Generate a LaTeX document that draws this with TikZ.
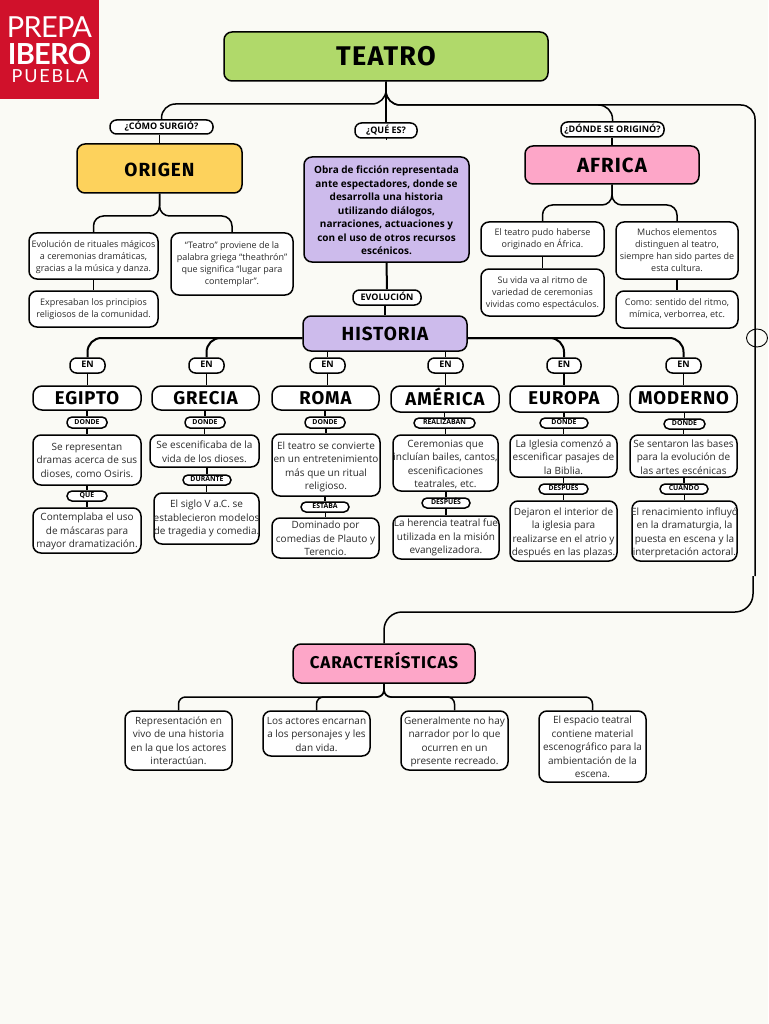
\documentclass[tikz,border=0pt]{standalone}
\usetikzlibrary{shapes.geometric}
\usepackage{fontspec}
\setmainfont{Open Sans}
\newfontfamily\titlefont[LetterSpace=5]{Fira Sans}
\newfontfamily\logofont[LetterSpace=-2.5]{Lato}
\newfontfamily\logospaced[LetterSpace=10]{Lato}
\definecolor{bgc}{HTML}{FAFAF5}
\definecolor{txt}{HTML}{2A2A2A}
\definecolor{verde}{HTML}{B0D96A}
\definecolor{amar}{HTML}{FDD25C}
\definecolor{rosa}{HTML}{FDA6C8}
\definecolor{lila}{HTML}{CDBBEC}
\definecolor{rojo}{HTML}{D0112B}
\newcommand{\lns}[1]{\makebox[0pt]{\begin{tabular}{@{}c@{}}#1\end{tabular}}}
% \bx[style]{name}{x0}{y0}{x1}{y1}{text}
\newcommand{\bx}[7][]{%
  \pgfmathsetmacro{\cxv}{(#3+#5)/2}\pgfmathsetmacro{\cyv}{(#4+#6)/2}%
  \pgfmathsetmacro{\wv}{#5-#3}\pgfmathsetmacro{\hv}{#6-#4}%
  \node[shp,minimum width=\wv pt,minimum height=\hv pt,#1] (#2) at (\cxv,\cyv) {\raisebox{\dimexpr\tdy-0.25em\relax}[0pt][0pt]{\lns{#7}}};}
\newcommand{\vc}[2]{\draw[conn] (#2.north |- #1.south) -- (#2.north);}
\tikzset{
  tdy/.code={\def\tdy{#1}},
  shp/.style={draw=black,line width=1.5pt,rounded corners=8pt,fill=white,inner sep=0pt,text=txt,tdy=-1pt,
    font=\fontsize{10}{13.5}\selectfont},
  small/.style={tdy=-0.5pt,font=\fontsize{9}{12}\selectfont},
  ttl/.style={text=black,tdy=-2pt,font=\titlefont\bfseries\fontsize{18.5}{22}\selectfont},
  pill/.style={rounded corners=6.5pt,text=black,tdy=0pt,font=\bfseries\fontsize{9}{10}\selectfont},
  pills/.style={rounded corners=5pt,text=black,tdy=0pt,font=\bfseries\fontsize{6.9}{8}\selectfont},
  conn/.style={draw=black,line width=1.5pt},
  logot/.style={text=white,inner sep=0pt}
}
\begin{document}
\begin{tikzpicture}[x=1pt,y=-1pt]
\useasboundingbox (0,0) rectangle (768,1024);
\fill[bgc] (0,0) rectangle (768,1024);
% logo
\fill[rojo] (0,0) rectangle (99,99);
\node[logot,font=\logofont\fontsize{29}{30}\selectfont] (lg1) at (49.5,27) {PREPA};
\node[logot,font=\logofont\bfseries\fontsize{29}{30}\selectfont] (lg2) at (49.5,54) {IBERO};
\node[logot,font=\logospaced\fontsize{18}{20}\selectfont] (lg3) at (50,76.5) {PUEBLA};
% main nodes
\bx[ttl,fill=verde,font=\titlefont\bfseries\fontsize{27}{32}\selectfont]{teatro}{224}{32}{548}{81}{TEATRO}
\bx[pill]{qcomo}{110}{120}{213}{134}{¿CÓMO SURGIÓ?}
\bx[pill]{qque}{355}{123}{417}{138}{¿QUÉ ES?}
\bx[pill]{qdonde}{561}{122}{664}{137}{¿DÓNDE SE ORIGINÓ?}
\bx[ttl,tdy=-3pt,fill=amar,font=\titlefont\bfseries\fontsize{19}{22}\selectfont]{origen}{77}{144}{242}{193}{ORIGEN}
\bx[ttl,tdy=-3pt,fill=rosa,font=\titlefont\bfseries\fontsize{20.5}{24}\selectfont]{africa}{525}{146}{699}{184}{AFRICA}
\bx[fill=lila,text=black,tdy=-2pt,font=\bfseries\fontsize{10}{13.5}\selectfont]{obra}{304}{157}{469}{262}{Obra de ficción representada\\ante espectadores, donde se\\desarrolla una historia\\utilizando diálogos,\\narraciones, actuaciones y\\con el uso de otros recursos\\escénicos.}
\bx[pill]{evol}{353}{290}{421}{305}{EVOLUCIÓN}
\bx[ttl,fill=lila,font=\titlefont\bfseries\fontsize{19}{22}\selectfont]{historia}{303}{316}{467}{351}{HISTORIA}
% origen boxes
\bx[small,tdy=-1pt]{oa}{29}{233}{158}{279}{Evolución de rituales mágicos\\a ceremonias dramáticas,\\gracias a la música y danza.}
\bx[small,tdy=0pt]{ob}{171}{233}{293}{295}{“Teatro” proviene de la\\palabra griega “theathrón”\\que significa “lugar para\\contemplar”.}
\bx[small,tdy=0pt]{oc}{29}{291}{158}{327}{Expresaban los principios\\religiosos de la comunidad.}
% africa boxes
\bx[small]{ae}{481}{222}{604}{256}{El teatro pudo haberse\\originado en África.}
\bx[small]{af}{481}{269}{604}{316}{Su vida va al ritmo de\\variedad de ceremonias\\vividas como espectáculos.}
\bx[small]{ag}{616}{222}{738}{279}{Muchos elementos\\distinguen al teatro,\\siempre han sido partes de\\esta cultura.}
\bx[small,tdy=0pt]{ah}{616}{291}{738}{328}{Como: sentido del ritmo,\\mímica, verborrea, etc.}
% EN pills
\bx[pill]{en1}{70}{358}{105}{373}{EN}
\bx[pill]{en2}{189}{358}{224}{373}{EN}
\bx[pill]{en3}{310}{358}{345}{373}{EN}
\bx[pill]{en4}{428}{358}{463}{373}{EN}
\bx[pill]{en5}{547}{358}{581}{373}{EN}
\bx[pill]{en6}{666}{358}{701}{373}{EN}
% titles
\bx[ttl,rounded corners=9pt]{t1}{33}{386}{141}{410}{EGIPTO}
\bx[ttl,rounded corners=9pt]{t2}{152}{386}{259}{410}{GRECIA}
\bx[ttl,rounded corners=9pt]{t3}{272}{386}{379}{410}{ROMA}
\bx[ttl,tdy=-1pt,rounded corners=9pt]{t4}{391}{386}{499}{412}{AMÉRICA}
\bx[ttl,tdy=-1pt,rounded corners=9pt]{t5}{510}{386}{618}{412}{EUROPA}
\bx[ttl,tdy=-1pt,rounded corners=9pt]{t6}{630}{386}{737}{412}{MODERNO}
% first small pills
\bx[pills]{p1}{67}{417}{107}{428}{DONDE}
\bx[pills]{p2}{185}{417}{225}{428}{DONDE}
\bx[pills]{p3}{305}{417}{345}{428}{DONDE}
\bx[pills]{p4}{414}{418}{475}{428}{REALIZABAN}
\bx[pills]{p5}{540}{418}{588}{428}{DONDE}
\bx[pills]{p6}{664}{419}{705}{429}{DONDE}
% second boxes
\bx{b1}{33}{435}{141}{485}{Se representan\\dramas acerca de sus\\dioses, como Osiris.}
\bx[tdy=-2pt]{b2}{150}{435}{259}{467}{Se escenificaba de la\\vida de los dioses.}
\bx[tdy=-2pt]{b3}{272}{434}{380}{496}{El teatro se convierte\\en un entretenimiento\\más que un ritual\\religioso.}
\bx[tdy=-2pt]{b4}{393}{435}{498}{491}{Ceremonias que\\incluían bailes, cantos,\\escenificaciones\\teatrales, etc.}
\bx[tdy=-2pt]{b5}{510}{435}{617}{477}{La Iglesia comenzó a\\escenificar pasajes de\\la Biblia.}
\bx[tdy=-2pt]{b6}{630}{435}{737}{477}{Se sentaron las bases\\para la evolución de\\las artes escénicas}
% second pills
\bx[pills]{q1}{67}{491}{107}{501}{QUE}
\bx[pills]{q2}{183}{475}{231}{485}{DURANTE}
\bx[pills]{q3}{301}{502}{349}{512}{ESTABA}
\bx[pills]{q4}{422}{498}{470}{508}{DESPUÉS}
\bx[pills]{q5}{539}{484}{588}{494}{DESPUÉS}
\bx[pills]{q6}{660}{484}{708}{494}{CUANDO}
% third boxes
\bx{c1}{33}{508}{141}{553}{Contemplaba el uso\\de máscaras para\\mayor dramatización.}
\bx[tdy=0pt]{c2}{154}{493}{259}{544}{El siglo V a.C. se\\establecieron modelos\\de tragedia y comedia.}
\bx[tdy=-1.5pt]{c3}{272}{518}{379}{558}{Dominado por\\comedias de Plauto y\\Terencio.}
\bx[tdy=0pt]{c4}{393}{516}{499}{559}{La herencia teatral fue\\utilizada en la misión\\evangelizadora.}
\bx[tdy=-2pt]{c5}{510}{501}{617}{561}{Dejaron el interior de\\la iglesia para\\realizarse en el atrio y\\después en las plazas.}
\bx[tdy=-2pt]{c6}{632}{501}{737}{561}{El renacimiento influyó\\en la dramaturgia, la\\puesta en escena y la\\interpretación actoral.}
% caracteristicas
\bx[ttl,tdy=0pt,fill=rosa,font=\titlefont\bfseries\fontsize{17}{20}\selectfont]{car}{293}{644}{475}{683}{CARACTERÍSTICAS}
\bx[tdy=-1.5pt]{d1}{125}{711}{232}{770}{Representación en\\vivo de una historia\\en la que los actores\\interactúan.}
\bx[tdy=-1.5pt]{d2}{263}{711}{370}{756}{Los actores encarnan\\a los personajes y les\\dan vida.}
\bx[tdy=-1.5pt]{d3}{401}{711}{508}{770}{Generalmente no hay\\narrador por lo que\\ocurren en un\\presente recreado.}
\bx[tdy=-1.5pt]{d4}{539}{711}{646}{782}{El espacio teatral\\contiene material\\escenográfico para la\\ambientación de la\\escena.}
% connectors: TEATRO branches
\draw[conn,line width=2pt] (teatro.south) -- (qque.north);
\draw[conn,rounded corners=14pt] (teatro.south) -- (teatro.south |- 0,104) -- (qcomo.north |- 0,104) -- (qcomo.north);
\draw[conn,rounded corners=14pt] (teatro.south) -- (teatro.south |- 0,105) -- (qdonde.north |- 0,105) -- (qdonde.north);
\coordinate (rt1) at (755,576);
\draw[conn,rounded corners=14pt] (teatro.south) -- (teatro.south |- 0,105) -- (755,105) -- (rt1);
\coordinate (rt2) at (753,576);
\draw[conn,rounded corners=18pt] (rt2) -- (753,612) -- (car.north |- 0,612) -- (car.north);
\vc{qcomo}{origen}
\vc{qdonde}{africa}
\draw[conn,line width=2pt] (qque.south) -- (obra.north |- qque.south);
\draw[conn,line width=2pt] (obra.south) -- (evol.north);
\vc{evol}{historia}
% origen
\draw[conn,rounded corners=10pt] (origen.south) -- (origen.south |- 0,216) -- (oa.north |- 0,216) -- (oa.north);
\draw[conn,rounded corners=10pt] (origen.south) -- (origen.south |- 0,216) -- (ob.north |- 0,216) -- (ob.north);
\vc{oa}{oc}
% africa
\draw[conn,rounded corners=10pt] (africa.south) -- (africa.south |- 0,205) -- (ae.north |- 0,205) -- (ae.north);
\draw[conn,rounded corners=10pt] (africa.south) -- (africa.south |- 0,205) -- (ag.north |- 0,205) -- (ag.north);
\vc{ae}{af}
\draw[conn,line width=2pt] (ag.south) -- (ah.north);
% historia
\draw[conn,line width=2pt,rounded corners=14pt] (historia.west |- 0,338) -- (en1.north |- 0,338) -- (en1.north);
\draw[conn,line width=2pt,rounded corners=14pt] (historia.west |- 0,338) -- (en2.north |- 0,338) -- (en2.north);
\draw[conn,line width=2pt,rounded corners=14pt] (historia.east |- 0,338) -- (en5.north |- 0,338) -- (en5.north);
\draw[conn,line width=2pt,rounded corners=14pt] (historia.east |- 0,338) -- (en6.north |- 0,338) -- (en6.north);
\vc{historia}{en3}
\vc{historia}{en4}
\foreach \i in {1,...,6}{
  \draw[conn] (en\i.south) -- (t\i.north -| en\i.south);
  \vc{t\i}{p\i}
  \vc{p\i}{b\i}
  \vc{b\i}{q\i}
  \vc{q\i}{c\i}
}
% caracteristicas
\foreach \i in {1,2,3,4}{\draw[conn,rounded corners=7pt] (car.south) -- (car.south |- 0,697) -- (d\i.north |- 0,697) -- (d\i.north);}
% circle on the right connector
\node[draw=black,line width=0.9pt,ellipse,minimum width=21pt,minimum height=18pt,inner sep=0pt] (circ) at (757,338) {};
\end{tikzpicture}
\end{document}
